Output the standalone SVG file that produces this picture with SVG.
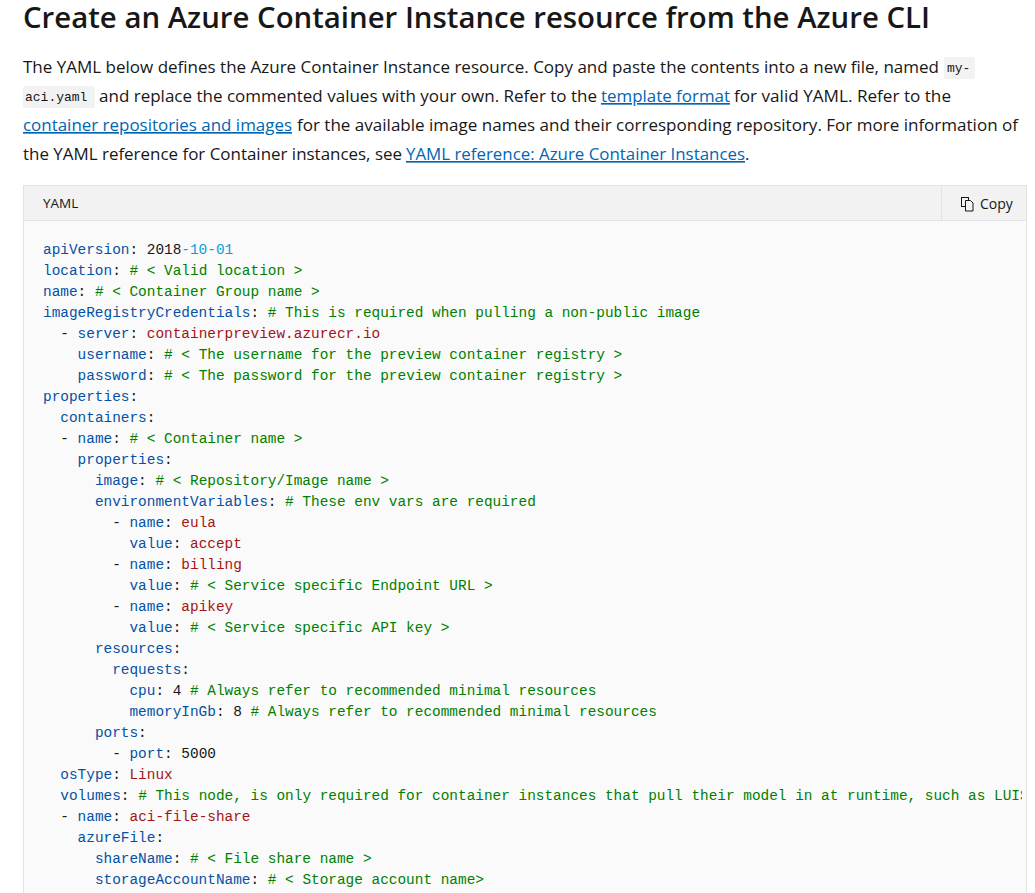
<svg xmlns="http://www.w3.org/2000/svg" width="1035" height="893" viewBox="0 0 1035 893">
<defs>
<style>
.t{font-family:"Open Sans","Noto Sans",sans-serif;font-size:16.5px;fill:#171717}
.a{fill:#0065b3;text-decoration:underline}
.ic{font-family:"Liberation Mono",monospace;font-size:13px;fill:#171717}
.c{font-family:"Liberation Mono",monospace;font-size:14.42px;fill:#171717;white-space:pre}
.k{fill:#0451a5}.g{fill:#008000}.s{fill:#a31515}.n{fill:#09a0d8}
</style>
<clipPath id="cb"><rect x="24" y="221" width="998" height="672"/></clipPath>
</defs>
<rect width="1035" height="893" fill="#fff"/>
<text x="23" y="28" font-family="'Open Sans','Noto Sans',sans-serif" font-weight="600" font-size="28" fill="#171717" textLength="907" lengthAdjust="spacingAndGlyphs">Create an Azure Container Instance resource from the Azure CLI</text>
<g>
<rect x="944" y="57" width="31" height="22" rx="2" fill="#f2f2f2"/>
<rect x="23" y="86" width="72" height="22" rx="2" fill="#f2f2f2"/>
<text class="t" x="23" y="73" textLength="916" lengthAdjust="spacingAndGlyphs">The YAML below defines the Azure Container Instance resource. Copy and paste the contents into a new file, named</text>
<text class="ic" x="947" y="72">my-</text>
<text class="ic" x="25" y="101">aci.yaml</text>
<text class="t" x="99" y="102" textLength="498" lengthAdjust="spacingAndGlyphs">and replace the commented values with your own. Refer to the</text>
<text class="t a" x="601" y="102" textLength="129" lengthAdjust="spacingAndGlyphs">template format</text>
<text class="t" x="734" y="102" textLength="217" lengthAdjust="spacingAndGlyphs">for valid YAML. Refer to the</text>
<text class="t a" x="23" y="131" textLength="269" lengthAdjust="spacingAndGlyphs">container repositories and images</text>
<text class="t" x="297" y="131" textLength="721" lengthAdjust="spacingAndGlyphs">for the available image names and their corresponding repository. For more information of</text>
<text class="t" x="23" y="160" textLength="379" lengthAdjust="spacingAndGlyphs">the YAML reference for Container instances, see</text>
<text class="t a" x="406" y="160" textLength="339" lengthAdjust="spacingAndGlyphs">YAML reference: Azure Container Instances</text>
<text class="t" x="745" y="160">.</text>
</g>
<g id="codebox">
<rect x="23.5" y="185.5" width="1003" height="720" fill="#fafafa" stroke="#e3e3e3"/>
<rect x="24" y="186" width="1002" height="34" fill="#f2f2f2"/>
<line x1="24" y1="220.5" x2="1026" y2="220.5" stroke="#e3e3e3"/>
<line x1="941.5" y1="186" x2="941.5" y2="220" stroke="#e3e3e3"/>
<text x="43" y="208" font-family="'Open Sans','Noto Sans',sans-serif" font-size="13.5" fill="#171717">YAML</text>
<g fill="none" stroke="#171717" stroke-width="1">
<rect x="961.5" y="197.5" width="7" height="9"/>
<path d="M965.5 200.5h5l2.5 2.5v8h-7.5z" fill="#f2f2f2"/>
</g>
<text x="980" y="209" font-family="'Open Sans','Noto Sans',sans-serif" font-size="14" fill="#171717">Copy</text>
</g>
<g clip-path="url(#cb)">
<text class="c" xml:space="preserve">
<tspan x="43" y="254"><tspan class="k">apiVersion</tspan>: 2018<tspan class="n">-10-01</tspan></tspan>
<tspan x="43" y="275"><tspan class="k">location</tspan>: <tspan class="g"># &lt; Valid location &gt;</tspan></tspan>
<tspan x="43" y="296"><tspan class="k">name</tspan>: <tspan class="g"># &lt; Container Group name &gt;</tspan></tspan>
<tspan x="43" y="317"><tspan class="k">imageRegistryCredentials</tspan>: <tspan class="g"># This is required when pulling a non-public image</tspan></tspan>
<tspan x="43" y="338">  - <tspan class="k">server</tspan>: <tspan class="s">containerpreview.azurecr.io</tspan></tspan>
<tspan x="43" y="359">    <tspan class="k">username</tspan>: <tspan class="g"># &lt; The username for the preview container registry &gt;</tspan></tspan>
<tspan x="43" y="380">    <tspan class="k">password</tspan>: <tspan class="g"># &lt; The password for the preview container registry &gt;</tspan></tspan>
<tspan x="43" y="401"><tspan class="k">properties</tspan>:</tspan>
<tspan x="43" y="422">  <tspan class="k">containers</tspan>:</tspan>
<tspan x="43" y="443">  - <tspan class="k">name</tspan>: <tspan class="g"># &lt; Container name &gt;</tspan></tspan>
<tspan x="43" y="464">    <tspan class="k">properties</tspan>:</tspan>
<tspan x="43" y="485">      <tspan class="k">image</tspan>: <tspan class="g"># &lt; Repository/Image name &gt;</tspan></tspan>
<tspan x="43" y="506">      <tspan class="k">environmentVariables</tspan>: <tspan class="g"># These env vars are required</tspan></tspan>
<tspan x="43" y="527">        - <tspan class="k">name</tspan>: <tspan class="s">eula</tspan></tspan>
<tspan x="43" y="548">          <tspan class="k">value</tspan>: <tspan class="s">accept</tspan></tspan>
<tspan x="43" y="569">        - <tspan class="k">name</tspan>: <tspan class="s">billing</tspan></tspan>
<tspan x="43" y="590">          <tspan class="k">value</tspan>: <tspan class="g"># &lt; Service specific Endpoint URL &gt;</tspan></tspan>
<tspan x="43" y="611">        - <tspan class="k">name</tspan>: <tspan class="s">apikey</tspan></tspan>
<tspan x="43" y="632">          <tspan class="k">value</tspan>: <tspan class="g"># &lt; Service specific API key &gt;</tspan></tspan>
<tspan x="43" y="653">      <tspan class="k">resources</tspan>:</tspan>
<tspan x="43" y="674">        <tspan class="k">requests</tspan>:</tspan>
<tspan x="43" y="695">          <tspan class="k">cpu</tspan>: 4 <tspan class="g"># Always refer to recommended minimal resources</tspan></tspan>
<tspan x="43" y="716">          <tspan class="k">memoryInGb</tspan>: 8 <tspan class="g"># Always refer to recommended minimal resources</tspan></tspan>
<tspan x="43" y="737">      <tspan class="k">ports</tspan>:</tspan>
<tspan x="43" y="758">        - <tspan class="k">port</tspan>: 5000</tspan>
<tspan x="43" y="779">  <tspan class="k">osType</tspan>: <tspan class="s">Linux</tspan></tspan>
<tspan x="43" y="800">  <tspan class="k">volumes</tspan>: <tspan class="g"># This node, is only required for container instances that pull their model in at runtime, such as LUIS.</tspan></tspan>
<tspan x="43" y="821">  - <tspan class="k">name</tspan>: <tspan class="s">aci-file-share</tspan></tspan>
<tspan x="43" y="842">    <tspan class="k">azureFile</tspan>:</tspan>
<tspan x="43" y="863">      <tspan class="k">shareName</tspan>: <tspan class="g"># &lt; File share name &gt;</tspan></tspan>
<tspan x="43" y="884">      <tspan class="k">storageAccountName</tspan>: <tspan class="g"># &lt; Storage account name&gt;</tspan></tspan>
</text>
</g>
</svg>
